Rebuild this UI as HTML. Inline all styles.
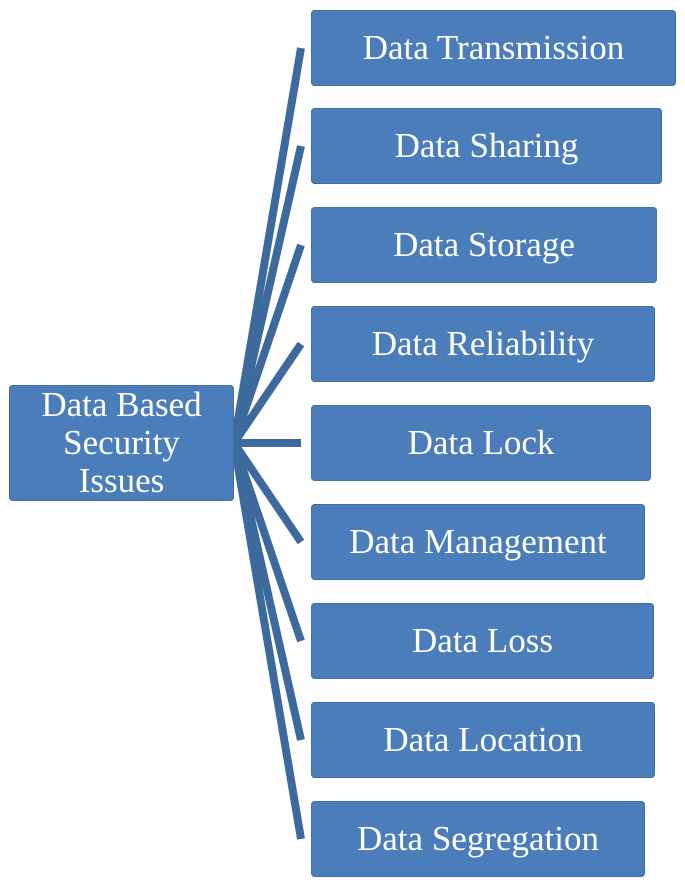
<!DOCTYPE html>
<html><head><style>
body{margin:0;width:685px;height:887px;background:#fff;position:relative;overflow:hidden;font-family:"Liberation Serif",serif;}
.b{position:absolute;background:#4a7dba;border-radius:4px;color:#fff;display:flex;align-items:center;justify-content:center;text-align:center;font-size:35px;line-height:38px;box-shadow:0 0 0 1px #3f6fa8 inset;}
svg{position:absolute;left:0;top:0}
</style></head><body>
<svg width="685" height="887">
<g stroke="#3d6a9c" stroke-width="8" stroke-linecap="butt">
<line x1="234" y1="443" x2="301" y2="48"/>
<line x1="234" y1="443" x2="301" y2="146"/>
<line x1="234" y1="443" x2="301" y2="245"/>
<line x1="234" y1="443" x2="301" y2="344"/>
<line x1="234" y1="443" x2="301" y2="443"/>
<line x1="234" y1="443" x2="301" y2="542"/>
<line x1="234" y1="443" x2="301" y2="641"/>
<line x1="234" y1="443" x2="301" y2="740"/>
<line x1="234" y1="443" x2="301" y2="839"/>
</g></svg>
<div class="b" style="left:9px;top:385px;width:225px;height:116px;">Data Based<br>Security<br>Issues</div>
<div class="b" style="left:311px;top:10px;width:365px;height:76px;">Data Transmission</div>
<div class="b" style="left:311px;top:108px;width:351px;height:76px;">Data Sharing</div>
<div class="b" style="left:311px;top:207px;width:346px;height:76px;">Data Storage</div>
<div class="b" style="left:311px;top:306px;width:344px;height:76px;">Data Reliability</div>
<div class="b" style="left:311px;top:405px;width:340px;height:76px;">Data Lock</div>
<div class="b" style="left:311px;top:504px;width:334px;height:76px;">Data Management</div>
<div class="b" style="left:311px;top:603px;width:343px;height:76px;">Data Loss</div>
<div class="b" style="left:311px;top:702px;width:344px;height:76px;">Data Location</div>
<div class="b" style="left:311px;top:801px;width:334px;height:76px;">Data Segregation</div>
</body></html>
